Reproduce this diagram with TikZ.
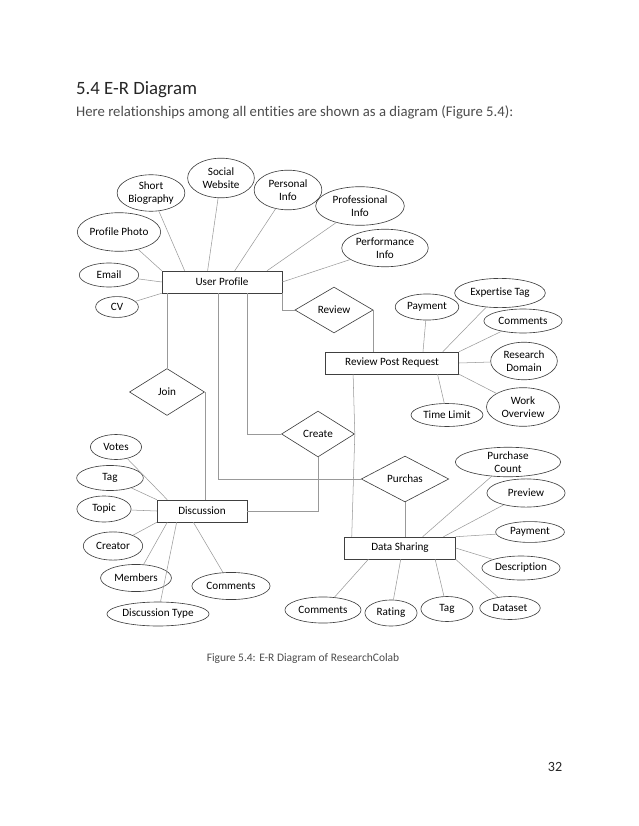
\documentclass[tikz,border=0pt]{standalone}
\usepackage{fontspec}
\setmainfont{Carlito}[Ligatures=NoCommon]
\usetikzlibrary{shapes.geometric}

\tikzset{
	entity/.style={draw=black!75, line width=0.6pt, minimum height=21pt, inner sep=1pt},
	attr/.style 2 args={ellipse, draw=black!75, line width=0.6pt, minimum width=#1, minimum height=#2, inner sep=0pt, align=center},
	relation/.style 2 args={diamond, draw=black!75, line width=0.6pt, minimum width=#1, minimum height=#2, inner sep=0pt},
	conn/.style={draw=black!40, line width=0.5pt},
}

\begin{document}
\begin{tikzpicture}[x=0.959pt, y=-0.959pt, font=\fontsize{10.7}{12.5}\selectfont]
	\useasboundingbox[fill=white] (0, 0) rectangle (638, 826);

	% page text
	\node[anchor=base west, inner sep=0pt, font=\fontsize{18}{21}\selectfont, text=black!85] (title) at (76, 95) {5.4 E-R Diagram};
	\node[anchor=base west, inner sep=0pt, font=\fontsize{14.1}{17}\selectfont, text=black!70] (intro) at (76, 117) {Here relationships among all entities are shown as a diagram (Figure 5.4):};
	\node[anchor=base, inner sep=0pt, font=\fontsize{11}{13}\selectfont, text=black!70] (caption) at (303, 661) {Figure 5.4: E-R Diagram of ResearchColab};
	\node[anchor=base, inner sep=0pt, font=\fontsize{13.5}{16}\selectfont, text=black!85] (pagenum) at (555, 771) {32};

	% entities
	\node[entity, minimum width=115pt] (up) at (222, 282) {User Profile};
	\node[entity, minimum width=128pt] (rpr) at (392, 363) {Review Post Request};
	\node[entity, minimum width=86pt] (disc) at (202, 511) {Discussion};
	\node[entity, minimum width=106pt] (ds) at (400, 548) {Data Sharing};

	% relations
	\node[relation={75pt}{44pt}] (rev) at (334, 310) {Review};
	\node[relation={72pt}{45pt}] (join) at (167, 392) {Join};
	\node[relation={70pt}{44pt}] (create) at (318, 434) {Create};
	\node[relation={84pt}{44pt}] (pur) at (405, 479) {Purchas};

	% user profile attributes
	\node[attr={65pt}{35pt}] (sbio) at (151, 193) {Short\\Biography};
	\node[attr={64pt}{38pt}] (social) at (221, 178) {Social\\Website};
	\node[attr={65pt}{38pt}] (pinfo) at (288, 190) {Personal\\Info};
	\node[attr={85pt}{37pt}] (prinfo) at (360, 206) {Professional\\Info};
	\node[attr={83pt}{36pt}] (pfinfo) at (385, 248) {Performance\\Info};
	\node[attr={74pt}{37pt}] (photo) at (119, 232) {Profile Photo};
	\node[attr={57pt}{23pt}] (email) at (109, 275) {Email};
	\node[attr={41pt}{20pt}] (cv) at (117, 307) {CV};

	% review post request attributes
	\node[attr={61pt}{25pt}] (rpay) at (427, 307) {Payment};
	\node[attr={87pt}{28pt}] (exptag) at (500, 293) {Expertise Tag};
	\node[attr={75pt}{23pt}] (rcom) at (523, 321) {Comments};
	\node[attr={64pt}{36pt}] (rdom) at (524, 361) {Research\\Domain};
	\node[attr={70pt}{37pt}] (work) at (523, 407) {Work\\Overview};
	\node[attr={69pt}{22pt}] (tlimit) at (447, 415) {Time Limit};

	% discussion attributes
	\node[attr={49pt}{24pt}] (votes) at (116, 447) {Votes};
	\node[attr={64pt}{24pt}] (dtag) at (110, 478) {Tag};
	\node[attr={52pt}{25pt}] (topic) at (104, 509) {Topic};
	\node[attr={57pt}{27pt}] (creator) at (113, 546) {Creator};
	\node[attr={68pt}{26pt}] (members) at (136, 578) {Members};
	\node[attr={75pt}{26pt}] (dcom) at (231, 586) {Comments};
	\node[attr={98pt}{23pt}] (dtype) at (158, 614) {Discussion Type};

	% data sharing attributes
	\node[attr={101pt}{26pt}] (pcount) at (508, 462) {Purchase\\Count};
	\node[attr={75pt}{27pt}] (preview) at (526, 493) {Preview};
	\node[attr={66pt}{20pt}] (spay) at (530, 532) {Payment};
	\node[attr={75pt}{23pt}] (descr) at (521, 568) {Description};
	\node[attr={58pt}{22pt}] (dset) at (510, 608) {Dataset};
	\node[attr={50pt}{24pt}] (stag) at (447, 609) {Tag};
	\node[attr={50pt}{25pt}] (rating) at (391, 613) {Rating};
	\node[attr={73pt}{25pt}] (scom) at (323, 610) {Comments};

	% user profile links
	\draw[conn] (up.north west) -- (photo);
	\draw[conn] ([xshift=22pt]up.north west) -- (sbio);
	\draw[conn] ([xshift=44pt]up.north west) -- (social);
	\draw[conn] ([xshift=70pt]up.north west) -- (pinfo);
	\draw[conn] ([xshift=101pt]up.north west) -- (prinfo);
	\draw[conn] (up.east) -- (pfinfo);
	\draw[conn] (up.west) -- (email);
	\draw[conn] (up.south west) -- (cv);

	% review post request links
	\draw[conn] ([xshift=94pt]rpr.north west) -- (rpay);
	\draw[conn] ([xshift=113pt]rpr.north west) -- (exptag);
	\draw[conn] (rpr.north east) -- (rcom);
	\draw[conn] (rpr.east) -- (rdom);
	\draw[conn] (rpr.south east) -- (work);
	\draw[conn] ([xshift=108pt]rpr.south west) -- (tlimit);

	% discussion links
	\draw[conn] ([xshift=10pt]disc.north west) -- (votes);
	\draw[conn] (disc.north west) -- (dtag);
	\draw[conn] (disc.west) -- (topic);
	\draw[conn] (disc.south west) -- (creator);
	\draw[conn] ([xshift=10pt]disc.south west) -- (members);
	\draw[conn] ([xshift=19pt]disc.south west) -- (dtype);
	\draw[conn] ([xshift=35pt]disc.south west) -- (dcom);

	% data sharing links
	\draw[conn] ([xshift=75pt]ds.north west) -- (pcount);
	\draw[conn] ([xshift=95pt]ds.north west) -- (preview);
	\draw[conn] (ds.north east) -- (spay);
	\draw[conn] (ds.east) -- (descr);
	\draw[conn] (ds.south east) -- (dset);
	\draw[conn] ([xshift=87pt]ds.south west) -- (stag);
	\draw[conn] ([xshift=54pt]ds.south west) -- (rating);
	\draw[conn] ([xshift=23pt]ds.south west) -- (scom);

	% relation links
	\draw[conn] (up.south east) |- (rev.west);
	\draw[conn] (rev.east) -- (rev.east |- rpr.north);
	\draw[conn] (join.north |- up.south) -- (join.north);
	\draw[conn] (join.east) -- (join.east |- disc.north);
	\draw[conn] ([xshift=82pt]up.south west) |- (create.west);
	\draw[conn] (create.south) |- (disc.east);
	\draw[conn] ([xshift=54pt]up.south west) |- (pur.west);
	\draw[conn] (pur.south) -- (pur.south |- ds.north);
	\draw[conn] ([xshift=27pt]rpr.south west) -- (create.east);
	\draw[conn] (create.east) -- ([xshift=7pt]ds.north west);
\end{tikzpicture}
\end{document}
